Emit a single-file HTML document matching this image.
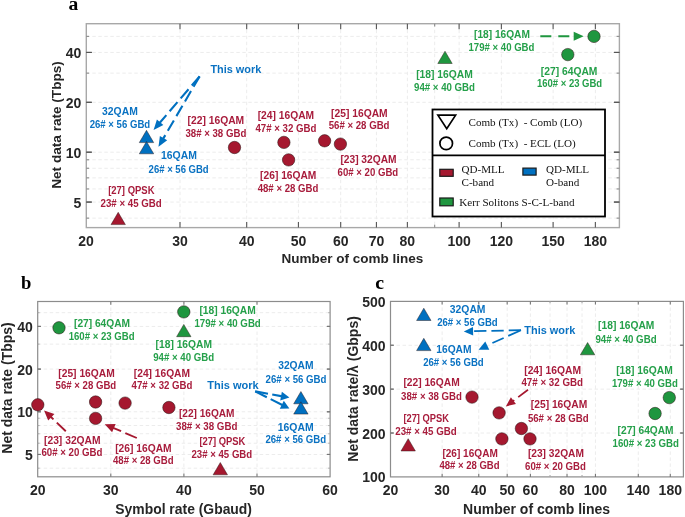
<!DOCTYPE html>
<html><head><meta charset="utf-8"><title>Figure</title><style>
html,body{margin:0;padding:0;background:#fff;}
body{width:685px;height:517px;overflow:hidden;}
svg{display:block;filter:blur(0.3px);}
.an{font-family:"Liberation Sans",sans-serif;font-weight:bold;}
.tk{font-family:"Liberation Sans",sans-serif;font-weight:bold;font-size:14px;fill:#262626;}
.ttl{font-family:"Liberation Sans",sans-serif;font-weight:bold;font-size:13.5px;fill:#262626;}
.lg{font-family:"Liberation Serif",serif;font-size:11.1px;fill:#111;}
.pl{font-family:"Liberation Serif",serif;font-weight:bold;font-size:18.6px;fill:#000;}
</style></head>
<body><svg width="685" height="517" viewBox="0 0 685 517">
<rect x="0" y="0" width="685" height="517" fill="#fff"/>
<line x1="180.00" y1="23.70" x2="180.00" y2="227.60" stroke="#ececec" stroke-width="1" stroke-dasharray="3.5,2.5"/>
<line x1="246.69" y1="23.70" x2="246.69" y2="227.60" stroke="#ececec" stroke-width="1" stroke-dasharray="3.5,2.5"/>
<line x1="298.42" y1="23.70" x2="298.42" y2="227.60" stroke="#ececec" stroke-width="1" stroke-dasharray="3.5,2.5"/>
<line x1="340.69" y1="23.70" x2="340.69" y2="227.60" stroke="#ececec" stroke-width="1" stroke-dasharray="3.5,2.5"/>
<line x1="376.42" y1="23.70" x2="376.42" y2="227.60" stroke="#ececec" stroke-width="1" stroke-dasharray="3.5,2.5"/>
<line x1="407.38" y1="23.70" x2="407.38" y2="227.60" stroke="#ececec" stroke-width="1" stroke-dasharray="3.5,2.5"/>
<line x1="434.68" y1="23.70" x2="434.68" y2="227.60" stroke="#ececec" stroke-width="1" stroke-dasharray="3.5,2.5"/>
<line x1="459.11" y1="23.70" x2="459.11" y2="227.60" stroke="#ececec" stroke-width="1" stroke-dasharray="3.5,2.5"/>
<line x1="501.38" y1="23.70" x2="501.38" y2="227.60" stroke="#ececec" stroke-width="1" stroke-dasharray="3.5,2.5"/>
<line x1="553.11" y1="23.70" x2="553.11" y2="227.60" stroke="#ececec" stroke-width="1" stroke-dasharray="3.5,2.5"/>
<line x1="595.37" y1="23.70" x2="595.37" y2="227.60" stroke="#ececec" stroke-width="1" stroke-dasharray="3.5,2.5"/>
<line x1="86.30" y1="218.13" x2="619.40" y2="218.13" stroke="#ececec" stroke-width="1" stroke-dasharray="3.5,2.5"/>
<line x1="86.30" y1="202.07" x2="619.40" y2="202.07" stroke="#ececec" stroke-width="1" stroke-dasharray="3.5,2.5"/>
<line x1="86.30" y1="188.95" x2="619.40" y2="188.95" stroke="#ececec" stroke-width="1" stroke-dasharray="3.5,2.5"/>
<line x1="86.30" y1="177.86" x2="619.40" y2="177.86" stroke="#ececec" stroke-width="1" stroke-dasharray="3.5,2.5"/>
<line x1="86.30" y1="168.25" x2="619.40" y2="168.25" stroke="#ececec" stroke-width="1" stroke-dasharray="3.5,2.5"/>
<line x1="86.30" y1="159.77" x2="619.40" y2="159.77" stroke="#ececec" stroke-width="1" stroke-dasharray="3.5,2.5"/>
<line x1="86.30" y1="152.19" x2="619.40" y2="152.19" stroke="#ececec" stroke-width="1" stroke-dasharray="3.5,2.5"/>
<line x1="86.30" y1="102.31" x2="619.40" y2="102.31" stroke="#ececec" stroke-width="1" stroke-dasharray="3.5,2.5"/>
<line x1="86.30" y1="73.13" x2="619.40" y2="73.13" stroke="#ececec" stroke-width="1" stroke-dasharray="3.5,2.5"/>
<line x1="86.30" y1="52.43" x2="619.40" y2="52.43" stroke="#ececec" stroke-width="1" stroke-dasharray="3.5,2.5"/>
<line x1="86.30" y1="36.37" x2="619.40" y2="36.37" stroke="#ececec" stroke-width="1" stroke-dasharray="3.5,2.5"/>
<rect x="86.30" y="23.70" width="533.10" height="203.90" fill="none" stroke="#a8a8a8" stroke-width="1.4"/>
<line x1="180.00" y1="227.60" x2="180.00" y2="222.10" stroke="#555" stroke-width="1.1"/>
<line x1="180.00" y1="23.70" x2="180.00" y2="29.20" stroke="#555" stroke-width="1.1"/>
<line x1="246.69" y1="227.60" x2="246.69" y2="222.10" stroke="#555" stroke-width="1.1"/>
<line x1="246.69" y1="23.70" x2="246.69" y2="29.20" stroke="#555" stroke-width="1.1"/>
<line x1="298.42" y1="227.60" x2="298.42" y2="222.10" stroke="#555" stroke-width="1.1"/>
<line x1="298.42" y1="23.70" x2="298.42" y2="29.20" stroke="#555" stroke-width="1.1"/>
<line x1="340.69" y1="227.60" x2="340.69" y2="222.10" stroke="#555" stroke-width="1.1"/>
<line x1="340.69" y1="23.70" x2="340.69" y2="29.20" stroke="#555" stroke-width="1.1"/>
<line x1="376.42" y1="227.60" x2="376.42" y2="222.10" stroke="#555" stroke-width="1.1"/>
<line x1="376.42" y1="23.70" x2="376.42" y2="29.20" stroke="#555" stroke-width="1.1"/>
<line x1="407.38" y1="227.60" x2="407.38" y2="222.10" stroke="#555" stroke-width="1.1"/>
<line x1="407.38" y1="23.70" x2="407.38" y2="29.20" stroke="#555" stroke-width="1.1"/>
<line x1="434.68" y1="227.60" x2="434.68" y2="224.80" stroke="#8a8a8a" stroke-width="1.1"/>
<line x1="434.68" y1="23.70" x2="434.68" y2="26.50" stroke="#8a8a8a" stroke-width="1.1"/>
<line x1="459.11" y1="227.60" x2="459.11" y2="222.10" stroke="#555" stroke-width="1.1"/>
<line x1="459.11" y1="23.70" x2="459.11" y2="29.20" stroke="#555" stroke-width="1.1"/>
<line x1="501.38" y1="227.60" x2="501.38" y2="222.10" stroke="#555" stroke-width="1.1"/>
<line x1="501.38" y1="23.70" x2="501.38" y2="29.20" stroke="#555" stroke-width="1.1"/>
<line x1="553.11" y1="227.60" x2="553.11" y2="222.10" stroke="#555" stroke-width="1.1"/>
<line x1="553.11" y1="23.70" x2="553.11" y2="29.20" stroke="#555" stroke-width="1.1"/>
<line x1="595.37" y1="227.60" x2="595.37" y2="222.10" stroke="#555" stroke-width="1.1"/>
<line x1="595.37" y1="23.70" x2="595.37" y2="29.20" stroke="#555" stroke-width="1.1"/>
<line x1="86.30" y1="218.13" x2="89.10" y2="218.13" stroke="#8a8a8a" stroke-width="1.1"/>
<line x1="619.40" y1="218.13" x2="616.60" y2="218.13" stroke="#8a8a8a" stroke-width="1.1"/>
<line x1="86.30" y1="202.07" x2="91.80" y2="202.07" stroke="#555" stroke-width="1.1"/>
<line x1="619.40" y1="202.07" x2="613.90" y2="202.07" stroke="#555" stroke-width="1.1"/>
<line x1="86.30" y1="188.95" x2="89.10" y2="188.95" stroke="#8a8a8a" stroke-width="1.1"/>
<line x1="619.40" y1="188.95" x2="616.60" y2="188.95" stroke="#8a8a8a" stroke-width="1.1"/>
<line x1="86.30" y1="177.86" x2="89.10" y2="177.86" stroke="#8a8a8a" stroke-width="1.1"/>
<line x1="619.40" y1="177.86" x2="616.60" y2="177.86" stroke="#8a8a8a" stroke-width="1.1"/>
<line x1="86.30" y1="168.25" x2="89.10" y2="168.25" stroke="#8a8a8a" stroke-width="1.1"/>
<line x1="619.40" y1="168.25" x2="616.60" y2="168.25" stroke="#8a8a8a" stroke-width="1.1"/>
<line x1="86.30" y1="159.77" x2="89.10" y2="159.77" stroke="#8a8a8a" stroke-width="1.1"/>
<line x1="619.40" y1="159.77" x2="616.60" y2="159.77" stroke="#8a8a8a" stroke-width="1.1"/>
<line x1="86.30" y1="152.19" x2="91.80" y2="152.19" stroke="#555" stroke-width="1.1"/>
<line x1="619.40" y1="152.19" x2="613.90" y2="152.19" stroke="#555" stroke-width="1.1"/>
<line x1="86.30" y1="102.31" x2="91.80" y2="102.31" stroke="#555" stroke-width="1.1"/>
<line x1="619.40" y1="102.31" x2="613.90" y2="102.31" stroke="#555" stroke-width="1.1"/>
<line x1="86.30" y1="73.13" x2="89.10" y2="73.13" stroke="#8a8a8a" stroke-width="1.1"/>
<line x1="619.40" y1="73.13" x2="616.60" y2="73.13" stroke="#8a8a8a" stroke-width="1.1"/>
<line x1="86.30" y1="52.43" x2="91.80" y2="52.43" stroke="#555" stroke-width="1.1"/>
<line x1="619.40" y1="52.43" x2="613.90" y2="52.43" stroke="#555" stroke-width="1.1"/>
<line x1="86.30" y1="36.37" x2="89.10" y2="36.37" stroke="#8a8a8a" stroke-width="1.1"/>
<line x1="619.40" y1="36.37" x2="616.60" y2="36.37" stroke="#8a8a8a" stroke-width="1.1"/>
<line x1="86.30" y1="202.07" x2="91.80" y2="202.07" stroke="#555" stroke-width="1.1"/>
<line x1="619.40" y1="202.07" x2="613.90" y2="202.07" stroke="#555" stroke-width="1.1"/>
<line x1="86.30" y1="152.19" x2="91.80" y2="152.19" stroke="#555" stroke-width="1.1"/>
<line x1="619.40" y1="152.19" x2="613.90" y2="152.19" stroke="#555" stroke-width="1.1"/>
<line x1="86.30" y1="102.31" x2="91.80" y2="102.31" stroke="#555" stroke-width="1.1"/>
<line x1="619.40" y1="102.31" x2="613.90" y2="102.31" stroke="#555" stroke-width="1.1"/>
<line x1="86.30" y1="52.43" x2="91.80" y2="52.43" stroke="#555" stroke-width="1.1"/>
<line x1="619.40" y1="52.43" x2="613.90" y2="52.43" stroke="#555" stroke-width="1.1"/>
<text x="86.00" y="246.00" text-anchor="middle" class="tk">20</text>
<text x="180.00" y="246.00" text-anchor="middle" class="tk">30</text>
<text x="246.69" y="246.00" text-anchor="middle" class="tk">40</text>
<text x="298.42" y="246.00" text-anchor="middle" class="tk">50</text>
<text x="340.69" y="246.00" text-anchor="middle" class="tk">60</text>
<text x="376.42" y="246.00" text-anchor="middle" class="tk">70</text>
<text x="407.38" y="246.00" text-anchor="middle" class="tk">80</text>
<text x="459.11" y="246.00" text-anchor="middle" class="tk">100</text>
<text x="501.38" y="246.00" text-anchor="middle" class="tk">120</text>
<text x="553.11" y="246.00" text-anchor="middle" class="tk">150</text>
<text x="595.37" y="246.00" text-anchor="middle" class="tk">180</text>
<text x="81.40" y="207.57" text-anchor="end" class="tk">5</text>
<text x="81.40" y="157.69" text-anchor="end" class="tk">10</text>
<text x="81.40" y="107.81" text-anchor="end" class="tk">20</text>
<text x="81.40" y="57.93" text-anchor="end" class="tk">40</text>
<text x="352.5" y="263.1" text-anchor="middle" class="ttl">Number of comb lines</text>
<text transform="translate(61.2,124.95) rotate(-90)" x="0" y="0" text-anchor="middle" class="ttl" style="font-size:13.6px">Net data rate (Tbps)</text>
<text x="68.6" y="9.5" class="pl" style="font-size:19.6px">a</text>
<rect x="432.5" y="109.5" width="172.5" height="107" fill="#fff" stroke="#000" stroke-width="1.8"/>
<line x1="432.50" y1="155.40" x2="605.00" y2="155.40" stroke="#000" stroke-width="1.8"/>
<polygon points="437.9,115.1 455.6,115.1 446.75,128.7" fill="none" stroke="#000" stroke-width="1.7"/>
<circle cx="446.2" cy="143.4" r="6.3" fill="none" stroke="#000" stroke-width="1.7"/>
<text x="468.5" y="126.3" class="lg">Comb (Tx)&#160; - Comb (LO)</text>
<text x="468.5" y="147.3" class="lg">Comb (Tx)&#160; - ECL (LO)</text>
<rect x="439.8" y="169.3" width="13.4" height="7" fill="#a5182f" stroke="#1a1a1a" stroke-width="1.2"/>
<rect x="522.9" y="168.1" width="13.2" height="7" fill="#0070c0" stroke="#1a1a1a" stroke-width="1.2"/>
<rect x="439.8" y="198" width="13.4" height="7.8" fill="#1f963f" stroke="#1a1a1a" stroke-width="1.2"/>
<text x="461.5" y="173.3" class="lg">QD-MLL</text>
<text x="461.5" y="185.9" class="lg">C-band</text>
<text x="546" y="173.3" class="lg">QD-MLL</text>
<text x="546" y="185.9" class="lg">O-band</text>
<text x="459.3" y="206.3" class="lg">Kerr Solitons S-C-L-band</text>
<polygon points="146.50,130.30 153.70,142.60 139.30,142.60" fill="#0070c0" stroke="rgba(40,20,20,0.75)" stroke-width="0.6" stroke-linejoin="miter"/>
<polygon points="146.50,141.50 153.70,153.80 139.30,153.80" fill="#0070c0" stroke="rgba(40,20,20,0.75)" stroke-width="0.6" stroke-linejoin="miter"/>
<polygon points="118.20,212.30 125.40,224.60 111.00,224.60" fill="#a5182f" stroke="rgba(40,20,20,0.75)" stroke-width="0.6" stroke-linejoin="miter"/>
<circle cx="234.50" cy="147.50" r="6.2" fill="#a5182f" stroke="rgba(40,20,20,0.75)" stroke-width="0.7"/>
<circle cx="283.90" cy="142.40" r="6.2" fill="#a5182f" stroke="rgba(40,20,20,0.75)" stroke-width="0.7"/>
<circle cx="288.60" cy="159.90" r="6.2" fill="#a5182f" stroke="rgba(40,20,20,0.75)" stroke-width="0.7"/>
<circle cx="324.60" cy="140.80" r="6.2" fill="#a5182f" stroke="rgba(40,20,20,0.75)" stroke-width="0.7"/>
<circle cx="340.40" cy="144.10" r="6.2" fill="#a5182f" stroke="rgba(40,20,20,0.75)" stroke-width="0.7"/>
<polygon points="445.00,51.20 452.20,63.50 437.80,63.50" fill="#1f963f" stroke="rgba(40,20,20,0.75)" stroke-width="0.6" stroke-linejoin="miter"/>
<circle cx="594.00" cy="36.40" r="6.2" fill="#1f963f" stroke="rgba(40,20,20,0.75)" stroke-width="0.7"/>
<circle cx="567.80" cy="54.60" r="6.2" fill="#1f963f" stroke="rgba(40,20,20,0.75)" stroke-width="0.7"/>
<line x1="199.60" y1="76.40" x2="159.14" y2="123.45" stroke="#0070c0" stroke-width="2.1" stroke-dasharray="12,5"/>
<polygon points="153.60,129.90 156.90,119.55 163.34,125.09" fill="#0070c0"/>
<line x1="199.60" y1="76.40" x2="162.79" y2="139.36" stroke="#0070c0" stroke-width="2.1" stroke-dasharray="12,5"/>
<polygon points="158.50,146.70 159.88,135.92 167.22,140.21" fill="#0070c0"/>
<line x1="540.30" y1="36.20" x2="575.20" y2="36.20" stroke="#1f963f" stroke-width="2.1" stroke-dasharray="11,7"/>
<polygon points="583.70,36.20 573.70,40.70 573.70,31.70" fill="#1f963f"/>
<text x="235.85" y="72.90" text-anchor="middle" textLength="50.90" lengthAdjust="spacingAndGlyphs" class="an" style="font-size:10.2px" fill="#0a72c2">This work</text>
<text x="119.95" y="114.90" text-anchor="middle" textLength="35.70" lengthAdjust="spacingAndGlyphs" class="an" style="font-size:10.2px" fill="#0a72c2">32QAM</text>
<text x="119.95" y="127.80" text-anchor="middle" textLength="60.50" lengthAdjust="spacingAndGlyphs" class="an" style="font-size:10.2px" fill="#0a72c2">26# &#215; 56 GBd</text>
<text x="178.95" y="159.30" text-anchor="middle" textLength="35.90" lengthAdjust="spacingAndGlyphs" class="an" style="font-size:10.2px" fill="#0a72c2">16QAM</text>
<text x="178.65" y="172.70" text-anchor="middle" textLength="60.10" lengthAdjust="spacingAndGlyphs" class="an" style="font-size:10.2px" fill="#0a72c2">26# &#215; 56 GBd</text>
<text x="215.85" y="123.80" text-anchor="middle" textLength="56.70" lengthAdjust="spacingAndGlyphs" class="an" style="font-size:10.2px" fill="#a81c3c">[22] 16QAM</text>
<text x="215.85" y="137.20" text-anchor="middle" textLength="60.90" lengthAdjust="spacingAndGlyphs" class="an" style="font-size:10.2px" fill="#a81c3c">38# &#215; 38 GBd</text>
<text x="285.90" y="119.10" text-anchor="middle" textLength="56.40" lengthAdjust="spacingAndGlyphs" class="an" style="font-size:10.2px" fill="#a81c3c">[24] 16QAM</text>
<text x="285.90" y="131.90" text-anchor="middle" textLength="61.00" lengthAdjust="spacingAndGlyphs" class="an" style="font-size:10.2px" fill="#a81c3c">47# &#215; 32 GBd</text>
<text x="359.40" y="116.50" text-anchor="middle" textLength="56.60" lengthAdjust="spacingAndGlyphs" class="an" style="font-size:10.2px" fill="#a81c3c">[25] 16QAM</text>
<text x="359.10" y="128.90" text-anchor="middle" textLength="60.80" lengthAdjust="spacingAndGlyphs" class="an" style="font-size:10.2px" fill="#a81c3c">56# &#215; 28 GBd</text>
<text x="368.45" y="163.20" text-anchor="middle" textLength="56.10" lengthAdjust="spacingAndGlyphs" class="an" style="font-size:10.2px" fill="#a81c3c">[23] 32QAM</text>
<text x="367.90" y="176.00" text-anchor="middle" textLength="60.60" lengthAdjust="spacingAndGlyphs" class="an" style="font-size:10.2px" fill="#a81c3c">60# &#215; 20 GBd</text>
<text x="288.25" y="179.10" text-anchor="middle" textLength="56.30" lengthAdjust="spacingAndGlyphs" class="an" style="font-size:10.2px" fill="#a81c3c">[26] 16QAM</text>
<text x="288.00" y="191.90" text-anchor="middle" textLength="60.60" lengthAdjust="spacingAndGlyphs" class="an" style="font-size:10.2px" fill="#a81c3c">48# &#215; 28 GBd</text>
<text x="131.35" y="193.70" text-anchor="middle" textLength="46.30" lengthAdjust="spacingAndGlyphs" class="an" style="font-size:10.2px" fill="#a81c3c">[27] QPSK</text>
<text x="131.15" y="206.80" text-anchor="middle" textLength="61.10" lengthAdjust="spacingAndGlyphs" class="an" style="font-size:10.2px" fill="#a81c3c">23# &#215; 45 GBd</text>
<text x="444.50" y="78.40" text-anchor="middle" textLength="56.60" lengthAdjust="spacingAndGlyphs" class="an" style="font-size:10.2px" fill="#25a04a">[18] 16QAM</text>
<text x="444.50" y="91.30" text-anchor="middle" textLength="61.00" lengthAdjust="spacingAndGlyphs" class="an" style="font-size:10.2px" fill="#25a04a">94# &#215; 40 GBd</text>
<text x="501.95" y="37.70" text-anchor="middle" textLength="55.90" lengthAdjust="spacingAndGlyphs" class="an" style="font-size:10.2px" fill="#25a04a">[18] 16QAM</text>
<text x="501.45" y="50.50" text-anchor="middle" textLength="65.90" lengthAdjust="spacingAndGlyphs" class="an" style="font-size:10.2px" fill="#25a04a">179# &#215; 40 GBd</text>
<text x="569.10" y="74.60" text-anchor="middle" textLength="56.60" lengthAdjust="spacingAndGlyphs" class="an" style="font-size:10.2px" fill="#25a04a">[27] 64QAM</text>
<text x="569.55" y="87.40" text-anchor="middle" textLength="65.30" lengthAdjust="spacingAndGlyphs" class="an" style="font-size:10.2px" fill="#25a04a">160# &#215; 23 GBd</text>
<line x1="110.80" y1="301.50" x2="110.80" y2="476.80" stroke="#ececec" stroke-width="1" stroke-dasharray="3.5,2.5"/>
<line x1="183.90" y1="301.50" x2="183.90" y2="476.80" stroke="#ececec" stroke-width="1" stroke-dasharray="3.5,2.5"/>
<line x1="257.00" y1="301.50" x2="257.00" y2="476.80" stroke="#ececec" stroke-width="1" stroke-dasharray="3.5,2.5"/>
<line x1="37.70" y1="468.20" x2="330.10" y2="468.20" stroke="#ececec" stroke-width="1" stroke-dasharray="3.5,2.5"/>
<line x1="37.70" y1="454.46" x2="330.10" y2="454.46" stroke="#ececec" stroke-width="1" stroke-dasharray="3.5,2.5"/>
<line x1="37.70" y1="443.23" x2="330.10" y2="443.23" stroke="#ececec" stroke-width="1" stroke-dasharray="3.5,2.5"/>
<line x1="37.70" y1="433.74" x2="330.10" y2="433.74" stroke="#ececec" stroke-width="1" stroke-dasharray="3.5,2.5"/>
<line x1="37.70" y1="425.52" x2="330.10" y2="425.52" stroke="#ececec" stroke-width="1" stroke-dasharray="3.5,2.5"/>
<line x1="37.70" y1="418.27" x2="330.10" y2="418.27" stroke="#ececec" stroke-width="1" stroke-dasharray="3.5,2.5"/>
<line x1="37.70" y1="411.78" x2="330.10" y2="411.78" stroke="#ececec" stroke-width="1" stroke-dasharray="3.5,2.5"/>
<line x1="37.70" y1="369.10" x2="330.10" y2="369.10" stroke="#ececec" stroke-width="1" stroke-dasharray="3.5,2.5"/>
<line x1="37.70" y1="344.13" x2="330.10" y2="344.13" stroke="#ececec" stroke-width="1" stroke-dasharray="3.5,2.5"/>
<line x1="37.70" y1="326.42" x2="330.10" y2="326.42" stroke="#ececec" stroke-width="1" stroke-dasharray="3.5,2.5"/>
<line x1="37.70" y1="312.68" x2="330.10" y2="312.68" stroke="#ececec" stroke-width="1" stroke-dasharray="3.5,2.5"/>
<rect x="37.70" y="301.50" width="292.40" height="175.30" fill="none" stroke="#8c8c8c" stroke-width="1.2"/>
<line x1="110.80" y1="476.80" x2="110.80" y2="473.60" stroke="#777" stroke-width="1.1"/>
<line x1="110.80" y1="301.50" x2="110.80" y2="304.70" stroke="#777" stroke-width="1.1"/>
<line x1="183.90" y1="476.80" x2="183.90" y2="473.60" stroke="#777" stroke-width="1.1"/>
<line x1="183.90" y1="301.50" x2="183.90" y2="304.70" stroke="#777" stroke-width="1.1"/>
<line x1="257.00" y1="476.80" x2="257.00" y2="473.60" stroke="#777" stroke-width="1.1"/>
<line x1="257.00" y1="301.50" x2="257.00" y2="304.70" stroke="#777" stroke-width="1.1"/>
<line x1="37.70" y1="468.20" x2="39.50" y2="468.20" stroke="#aaa" stroke-width="1.1"/>
<line x1="330.10" y1="468.20" x2="328.30" y2="468.20" stroke="#aaa" stroke-width="1.1"/>
<line x1="37.70" y1="454.46" x2="40.90" y2="454.46" stroke="#777" stroke-width="1.1"/>
<line x1="330.10" y1="454.46" x2="326.90" y2="454.46" stroke="#777" stroke-width="1.1"/>
<line x1="37.70" y1="443.23" x2="39.50" y2="443.23" stroke="#aaa" stroke-width="1.1"/>
<line x1="330.10" y1="443.23" x2="328.30" y2="443.23" stroke="#aaa" stroke-width="1.1"/>
<line x1="37.70" y1="433.74" x2="39.50" y2="433.74" stroke="#aaa" stroke-width="1.1"/>
<line x1="330.10" y1="433.74" x2="328.30" y2="433.74" stroke="#aaa" stroke-width="1.1"/>
<line x1="37.70" y1="425.52" x2="39.50" y2="425.52" stroke="#aaa" stroke-width="1.1"/>
<line x1="330.10" y1="425.52" x2="328.30" y2="425.52" stroke="#aaa" stroke-width="1.1"/>
<line x1="37.70" y1="418.27" x2="39.50" y2="418.27" stroke="#aaa" stroke-width="1.1"/>
<line x1="330.10" y1="418.27" x2="328.30" y2="418.27" stroke="#aaa" stroke-width="1.1"/>
<line x1="37.70" y1="411.78" x2="40.90" y2="411.78" stroke="#777" stroke-width="1.1"/>
<line x1="330.10" y1="411.78" x2="326.90" y2="411.78" stroke="#777" stroke-width="1.1"/>
<line x1="37.70" y1="369.10" x2="40.90" y2="369.10" stroke="#777" stroke-width="1.1"/>
<line x1="330.10" y1="369.10" x2="326.90" y2="369.10" stroke="#777" stroke-width="1.1"/>
<line x1="37.70" y1="344.13" x2="39.50" y2="344.13" stroke="#aaa" stroke-width="1.1"/>
<line x1="330.10" y1="344.13" x2="328.30" y2="344.13" stroke="#aaa" stroke-width="1.1"/>
<line x1="37.70" y1="326.42" x2="40.90" y2="326.42" stroke="#777" stroke-width="1.1"/>
<line x1="330.10" y1="326.42" x2="326.90" y2="326.42" stroke="#777" stroke-width="1.1"/>
<line x1="37.70" y1="312.68" x2="39.50" y2="312.68" stroke="#aaa" stroke-width="1.1"/>
<line x1="330.10" y1="312.68" x2="328.30" y2="312.68" stroke="#aaa" stroke-width="1.1"/>
<line x1="37.70" y1="454.46" x2="40.90" y2="454.46" stroke="#777" stroke-width="1.1"/>
<line x1="330.10" y1="454.46" x2="326.90" y2="454.46" stroke="#777" stroke-width="1.1"/>
<line x1="37.70" y1="411.78" x2="40.90" y2="411.78" stroke="#777" stroke-width="1.1"/>
<line x1="330.10" y1="411.78" x2="326.90" y2="411.78" stroke="#777" stroke-width="1.1"/>
<line x1="37.70" y1="369.10" x2="40.90" y2="369.10" stroke="#777" stroke-width="1.1"/>
<line x1="330.10" y1="369.10" x2="326.90" y2="369.10" stroke="#777" stroke-width="1.1"/>
<line x1="37.70" y1="326.42" x2="40.90" y2="326.42" stroke="#777" stroke-width="1.1"/>
<line x1="330.10" y1="326.42" x2="326.90" y2="326.42" stroke="#777" stroke-width="1.1"/>
<text x="37.70" y="495.20" text-anchor="middle" class="tk">20</text>
<text x="110.80" y="495.20" text-anchor="middle" class="tk">30</text>
<text x="183.90" y="495.20" text-anchor="middle" class="tk">40</text>
<text x="257.00" y="495.20" text-anchor="middle" class="tk">50</text>
<text x="330.10" y="495.20" text-anchor="middle" class="tk">60</text>
<text x="32.80" y="459.96" text-anchor="end" class="tk">5</text>
<text x="32.80" y="417.28" text-anchor="end" class="tk">10</text>
<text x="32.80" y="374.60" text-anchor="end" class="tk">20</text>
<text x="32.80" y="331.92" text-anchor="end" class="tk">40</text>
<text x="183.65" y="514.2" text-anchor="middle" class="ttl" style="font-size:13.9px">Symbol rate (Gbaud)</text>
<text transform="translate(11.6,388) rotate(-90)" x="0" y="0" text-anchor="middle" class="ttl" style="font-size:14px">Net data rate (Tbps)</text>
<text x="20.9" y="289" class="pl">b</text>
<circle cx="59.00" cy="327.80" r="6.2" fill="#1f963f" stroke="rgba(40,20,20,0.75)" stroke-width="0.7"/>
<circle cx="183.80" cy="311.90" r="6.2" fill="#1f963f" stroke="rgba(40,20,20,0.75)" stroke-width="0.7"/>
<polygon points="183.80,324.40 191.00,336.70 176.60,336.70" fill="#1f963f" stroke="rgba(40,20,20,0.75)" stroke-width="0.6" stroke-linejoin="miter"/>
<circle cx="37.80" cy="404.80" r="6.2" fill="#a5182f" stroke="rgba(40,20,20,0.75)" stroke-width="0.7"/>
<circle cx="95.60" cy="402.00" r="6.2" fill="#a5182f" stroke="rgba(40,20,20,0.75)" stroke-width="0.7"/>
<circle cx="95.60" cy="418.40" r="6.2" fill="#a5182f" stroke="rgba(40,20,20,0.75)" stroke-width="0.7"/>
<circle cx="125.10" cy="403.10" r="6.2" fill="#a5182f" stroke="rgba(40,20,20,0.75)" stroke-width="0.7"/>
<circle cx="168.90" cy="407.50" r="6.2" fill="#a5182f" stroke="rgba(40,20,20,0.75)" stroke-width="0.7"/>
<polygon points="220.30,462.50 227.50,474.80 213.10,474.80" fill="#a5182f" stroke="rgba(40,20,20,0.75)" stroke-width="0.6" stroke-linejoin="miter"/>
<polygon points="300.90,391.50 308.10,403.80 293.70,403.80" fill="#0070c0" stroke="rgba(40,20,20,0.75)" stroke-width="0.6" stroke-linejoin="miter"/>
<polygon points="300.90,401.80 308.10,414.10 293.70,414.10" fill="#0070c0" stroke="rgba(40,20,20,0.75)" stroke-width="0.6" stroke-linejoin="miter"/>
<line x1="65.80" y1="431.30" x2="50.22" y2="416.30" stroke="#a5182f" stroke-width="1.9" stroke-dasharray="12.5,4.6"/>
<polygon points="44.10,410.40 54.42,414.10 48.18,420.58" fill="#a5182f"/>
<line x1="136.80" y1="438.00" x2="112.51" y2="427.56" stroke="#a5182f" stroke-width="1.9" stroke-dasharray="12.5,4.6"/>
<polygon points="104.70,424.20 115.66,424.02 112.11,432.28" fill="#a5182f"/>
<line x1="255.20" y1="391.40" x2="282.51" y2="396.35" stroke="#0070c0" stroke-width="2.1" stroke-dasharray="13,4.3"/>
<polygon points="289.40,397.60 280.23,400.51 281.84,391.66" fill="#0070c0"/>
<line x1="255.20" y1="391.40" x2="283.14" y2="405.37" stroke="#0070c0" stroke-width="2.1" stroke-dasharray="13,4.3"/>
<polygon points="289.40,408.50 279.78,408.72 283.81,400.67" fill="#0070c0"/>
<text x="102.00" y="327.00" text-anchor="middle" textLength="56.00" lengthAdjust="spacingAndGlyphs" class="an" style="font-size:10.2px" fill="#25a04a">[27] 64QAM</text>
<text x="101.65" y="339.70" text-anchor="middle" textLength="65.90" lengthAdjust="spacingAndGlyphs" class="an" style="font-size:10.2px" fill="#25a04a">160# &#215; 23 GBd</text>
<text x="227.60" y="313.90" text-anchor="middle" textLength="56.40" lengthAdjust="spacingAndGlyphs" class="an" style="font-size:10.2px" fill="#25a04a">[18] 16QAM</text>
<text x="227.60" y="326.50" text-anchor="middle" textLength="66.40" lengthAdjust="spacingAndGlyphs" class="an" style="font-size:10.2px" fill="#25a04a">179# &#215; 40 GBd</text>
<text x="183.80" y="347.80" text-anchor="middle" textLength="56.40" lengthAdjust="spacingAndGlyphs" class="an" style="font-size:10.2px" fill="#25a04a">[18] 16QAM</text>
<text x="183.65" y="360.70" text-anchor="middle" textLength="60.90" lengthAdjust="spacingAndGlyphs" class="an" style="font-size:10.2px" fill="#25a04a">94# &#215; 40 GBd</text>
<text x="86.50" y="376.90" text-anchor="middle" textLength="56.40" lengthAdjust="spacingAndGlyphs" class="an" style="font-size:10.2px" fill="#a81c3c">[25] 16QAM</text>
<text x="85.90" y="389.10" text-anchor="middle" textLength="60.60" lengthAdjust="spacingAndGlyphs" class="an" style="font-size:10.2px" fill="#a81c3c">56# &#215; 28 GBd</text>
<text x="161.90" y="376.90" text-anchor="middle" textLength="56.20" lengthAdjust="spacingAndGlyphs" class="an" style="font-size:10.2px" fill="#a81c3c">[24] 16QAM</text>
<text x="162.00" y="389.10" text-anchor="middle" textLength="60.80" lengthAdjust="spacingAndGlyphs" class="an" style="font-size:10.2px" fill="#a81c3c">47# &#215; 32 GBd</text>
<text x="206.70" y="416.90" text-anchor="middle" textLength="55.60" lengthAdjust="spacingAndGlyphs" class="an" style="font-size:10.2px" fill="#a81c3c">[22] 16QAM</text>
<text x="206.70" y="429.70" text-anchor="middle" textLength="61.40" lengthAdjust="spacingAndGlyphs" class="an" style="font-size:10.2px" fill="#a81c3c">38# &#215; 38 GBd</text>
<text x="72.30" y="443.60" text-anchor="middle" textLength="56.60" lengthAdjust="spacingAndGlyphs" class="an" style="font-size:10.2px" fill="#a81c3c">[23] 32QAM</text>
<text x="71.95" y="456.30" text-anchor="middle" textLength="61.10" lengthAdjust="spacingAndGlyphs" class="an" style="font-size:10.2px" fill="#a81c3c">60# &#215; 20 GBd</text>
<text x="143.40" y="451.50" text-anchor="middle" textLength="56.40" lengthAdjust="spacingAndGlyphs" class="an" style="font-size:10.2px" fill="#a81c3c">[26] 16QAM</text>
<text x="143.30" y="463.60" text-anchor="middle" textLength="60.60" lengthAdjust="spacingAndGlyphs" class="an" style="font-size:10.2px" fill="#a81c3c">48# &#215; 28 GBd</text>
<text x="222.40" y="444.50" text-anchor="middle" textLength="46.00" lengthAdjust="spacingAndGlyphs" class="an" style="font-size:10.2px" fill="#a81c3c">[27] QPSK</text>
<text x="221.85" y="457.60" text-anchor="middle" textLength="60.70" lengthAdjust="spacingAndGlyphs" class="an" style="font-size:10.2px" fill="#a81c3c">23# &#215; 45 GBd</text>
<text x="295.90" y="369.40" text-anchor="middle" textLength="35.40" lengthAdjust="spacingAndGlyphs" class="an" style="font-size:10.2px" fill="#0a72c2">32QAM</text>
<text x="296.05" y="382.60" text-anchor="middle" textLength="60.90" lengthAdjust="spacingAndGlyphs" class="an" style="font-size:10.2px" fill="#0a72c2">26# &#215; 56 GBd</text>
<text x="232.95" y="389.30" text-anchor="middle" textLength="51.50" lengthAdjust="spacingAndGlyphs" class="an" style="font-size:10.2px" fill="#0a72c2">This work</text>
<text x="295.65" y="430.60" text-anchor="middle" textLength="35.90" lengthAdjust="spacingAndGlyphs" class="an" style="font-size:10.2px" fill="#0a72c2">16QAM</text>
<text x="295.80" y="443.40" text-anchor="middle" textLength="60.80" lengthAdjust="spacingAndGlyphs" class="an" style="font-size:10.2px" fill="#0a72c2">26# &#215; 56 GBd</text>
<line x1="442.13" y1="301.40" x2="442.13" y2="476.90" stroke="#ececec" stroke-width="1" stroke-dasharray="3.5,2.5"/>
<line x1="478.76" y1="301.40" x2="478.76" y2="476.90" stroke="#ececec" stroke-width="1" stroke-dasharray="3.5,2.5"/>
<line x1="507.18" y1="301.40" x2="507.18" y2="476.90" stroke="#ececec" stroke-width="1" stroke-dasharray="3.5,2.5"/>
<line x1="530.39" y1="301.40" x2="530.39" y2="476.90" stroke="#ececec" stroke-width="1" stroke-dasharray="3.5,2.5"/>
<line x1="550.02" y1="301.40" x2="550.02" y2="476.90" stroke="#ececec" stroke-width="1" stroke-dasharray="3.5,2.5"/>
<line x1="567.02" y1="301.40" x2="567.02" y2="476.90" stroke="#ececec" stroke-width="1" stroke-dasharray="3.5,2.5"/>
<line x1="582.02" y1="301.40" x2="582.02" y2="476.90" stroke="#ececec" stroke-width="1" stroke-dasharray="3.5,2.5"/>
<line x1="595.44" y1="301.40" x2="595.44" y2="476.90" stroke="#ececec" stroke-width="1" stroke-dasharray="3.5,2.5"/>
<line x1="638.28" y1="301.40" x2="638.28" y2="476.90" stroke="#ececec" stroke-width="1" stroke-dasharray="3.5,2.5"/>
<line x1="670.28" y1="301.40" x2="670.28" y2="476.90" stroke="#ececec" stroke-width="1" stroke-dasharray="3.5,2.5"/>
<line x1="390.50" y1="433.02" x2="683.40" y2="433.02" stroke="#ececec" stroke-width="1" stroke-dasharray="3.5,2.5"/>
<line x1="390.50" y1="389.15" x2="683.40" y2="389.15" stroke="#ececec" stroke-width="1" stroke-dasharray="3.5,2.5"/>
<line x1="390.50" y1="345.27" x2="683.40" y2="345.27" stroke="#ececec" stroke-width="1" stroke-dasharray="3.5,2.5"/>
<rect x="390.50" y="301.40" width="292.90" height="175.50" fill="none" stroke="#8c8c8c" stroke-width="1.2"/>
<line x1="442.13" y1="476.90" x2="442.13" y2="473.70" stroke="#777" stroke-width="1.1"/>
<line x1="442.13" y1="301.40" x2="442.13" y2="304.60" stroke="#777" stroke-width="1.1"/>
<line x1="478.76" y1="476.90" x2="478.76" y2="473.70" stroke="#777" stroke-width="1.1"/>
<line x1="478.76" y1="301.40" x2="478.76" y2="304.60" stroke="#777" stroke-width="1.1"/>
<line x1="507.18" y1="476.90" x2="507.18" y2="473.70" stroke="#777" stroke-width="1.1"/>
<line x1="507.18" y1="301.40" x2="507.18" y2="304.60" stroke="#777" stroke-width="1.1"/>
<line x1="530.39" y1="476.90" x2="530.39" y2="473.70" stroke="#777" stroke-width="1.1"/>
<line x1="530.39" y1="301.40" x2="530.39" y2="304.60" stroke="#777" stroke-width="1.1"/>
<line x1="550.02" y1="476.90" x2="550.02" y2="475.10" stroke="#aaa" stroke-width="1.1"/>
<line x1="550.02" y1="301.40" x2="550.02" y2="303.20" stroke="#aaa" stroke-width="1.1"/>
<line x1="567.02" y1="476.90" x2="567.02" y2="473.70" stroke="#777" stroke-width="1.1"/>
<line x1="567.02" y1="301.40" x2="567.02" y2="304.60" stroke="#777" stroke-width="1.1"/>
<line x1="582.02" y1="476.90" x2="582.02" y2="475.10" stroke="#aaa" stroke-width="1.1"/>
<line x1="582.02" y1="301.40" x2="582.02" y2="303.20" stroke="#aaa" stroke-width="1.1"/>
<line x1="595.44" y1="476.90" x2="595.44" y2="473.70" stroke="#777" stroke-width="1.1"/>
<line x1="595.44" y1="301.40" x2="595.44" y2="304.60" stroke="#777" stroke-width="1.1"/>
<line x1="638.28" y1="476.90" x2="638.28" y2="473.70" stroke="#777" stroke-width="1.1"/>
<line x1="638.28" y1="301.40" x2="638.28" y2="304.60" stroke="#777" stroke-width="1.1"/>
<line x1="670.28" y1="476.90" x2="670.28" y2="473.70" stroke="#777" stroke-width="1.1"/>
<line x1="670.28" y1="301.40" x2="670.28" y2="304.60" stroke="#777" stroke-width="1.1"/>
<line x1="390.50" y1="433.02" x2="393.70" y2="433.02" stroke="#777" stroke-width="1.1"/>
<line x1="683.40" y1="433.02" x2="680.20" y2="433.02" stroke="#777" stroke-width="1.1"/>
<line x1="390.50" y1="389.15" x2="393.70" y2="389.15" stroke="#777" stroke-width="1.1"/>
<line x1="683.40" y1="389.15" x2="680.20" y2="389.15" stroke="#777" stroke-width="1.1"/>
<line x1="390.50" y1="345.27" x2="393.70" y2="345.27" stroke="#777" stroke-width="1.1"/>
<line x1="683.40" y1="345.27" x2="680.20" y2="345.27" stroke="#777" stroke-width="1.1"/>
<line x1="390.50" y1="433.02" x2="393.70" y2="433.02" stroke="#777" stroke-width="1.1"/>
<line x1="683.40" y1="433.02" x2="680.20" y2="433.02" stroke="#777" stroke-width="1.1"/>
<line x1="390.50" y1="389.15" x2="393.70" y2="389.15" stroke="#777" stroke-width="1.1"/>
<line x1="683.40" y1="389.15" x2="680.20" y2="389.15" stroke="#777" stroke-width="1.1"/>
<line x1="390.50" y1="345.27" x2="393.70" y2="345.27" stroke="#777" stroke-width="1.1"/>
<line x1="683.40" y1="345.27" x2="680.20" y2="345.27" stroke="#777" stroke-width="1.1"/>
<text x="390.50" y="495.30" text-anchor="middle" class="tk">20</text>
<text x="442.13" y="495.30" text-anchor="middle" class="tk">30</text>
<text x="478.76" y="495.30" text-anchor="middle" class="tk">40</text>
<text x="507.18" y="495.30" text-anchor="middle" class="tk">50</text>
<text x="530.39" y="495.30" text-anchor="middle" class="tk">60</text>
<text x="567.02" y="495.30" text-anchor="middle" class="tk">80</text>
<text x="595.44" y="495.30" text-anchor="middle" class="tk">100</text>
<text x="638.28" y="495.30" text-anchor="middle" class="tk">140</text>
<text x="670.28" y="495.30" text-anchor="middle" class="tk">180</text>
<text x="385.60" y="482.40" text-anchor="end" class="tk">100</text>
<text x="385.60" y="438.52" text-anchor="end" class="tk">200</text>
<text x="385.60" y="394.65" text-anchor="end" class="tk">300</text>
<text x="385.60" y="350.77" text-anchor="end" class="tk">400</text>
<text x="385.60" y="306.90" text-anchor="end" class="tk">500</text>
<text x="536.6" y="513.9" text-anchor="middle" class="ttl" style="font-size:14px">Number of comb lines</text>
<text transform="translate(357.8,388.9) rotate(-90)" x="0" y="0" text-anchor="middle" class="ttl" style="font-size:14px">Net data rate/&#955; (Gbps)</text>
<text x="375.2" y="288.9" class="pl" style="font-size:19.8px">c</text>
<polygon points="423.80,308.20 431.00,320.50 416.60,320.50" fill="#0070c0" stroke="rgba(40,20,20,0.75)" stroke-width="0.6" stroke-linejoin="miter"/>
<polygon points="423.80,338.30 431.00,350.60 416.60,350.60" fill="#0070c0" stroke="rgba(40,20,20,0.75)" stroke-width="0.6" stroke-linejoin="miter"/>
<polygon points="408.20,438.70 415.40,451.00 401.00,451.00" fill="#a5182f" stroke="rgba(40,20,20,0.75)" stroke-width="0.6" stroke-linejoin="miter"/>
<circle cx="472.00" cy="397.10" r="6.2" fill="#a5182f" stroke="rgba(40,20,20,0.75)" stroke-width="0.7"/>
<circle cx="499.10" cy="412.90" r="6.2" fill="#a5182f" stroke="rgba(40,20,20,0.75)" stroke-width="0.7"/>
<circle cx="521.40" cy="428.50" r="6.2" fill="#a5182f" stroke="rgba(40,20,20,0.75)" stroke-width="0.7"/>
<circle cx="501.90" cy="438.90" r="6.2" fill="#a5182f" stroke="rgba(40,20,20,0.75)" stroke-width="0.7"/>
<circle cx="530.00" cy="438.90" r="6.2" fill="#a5182f" stroke="rgba(40,20,20,0.75)" stroke-width="0.7"/>
<polygon points="587.60,342.50 594.80,354.80 580.40,354.80" fill="#1f963f" stroke="rgba(40,20,20,0.75)" stroke-width="0.6" stroke-linejoin="miter"/>
<circle cx="669.30" cy="397.60" r="6.2" fill="#1f963f" stroke="rgba(40,20,20,0.75)" stroke-width="0.7"/>
<circle cx="655.10" cy="413.50" r="6.2" fill="#1f963f" stroke="rgba(40,20,20,0.75)" stroke-width="0.7"/>
<line x1="521.00" y1="330.20" x2="471.60" y2="331.24" stroke="#0070c0" stroke-width="1.8" stroke-dasharray="12.3,5"/>
<polygon points="463.80,331.40 473.01,326.96 473.19,335.45" fill="#0070c0"/>
<line x1="521.00" y1="330.20" x2="492.40" y2="343.00" stroke="#0070c0" stroke-width="1.8" stroke-dasharray="14,5"/>
<polygon points="478.6,349.7 489.3,349.7 485.3,341.6" fill="#0070c0"/>
<line x1="528.00" y1="389.80" x2="512.21" y2="401.61" stroke="#a5182f" stroke-width="1.8" stroke-dasharray="12.2,5"/>
<polygon points="505.80,406.40 510.89,397.35 515.92,404.07" fill="#a5182f"/>
<text x="467.65" y="313.10" text-anchor="middle" textLength="35.70" lengthAdjust="spacingAndGlyphs" class="an" style="font-size:10.2px" fill="#0a72c2">32QAM</text>
<text x="467.45" y="325.90" text-anchor="middle" textLength="60.50" lengthAdjust="spacingAndGlyphs" class="an" style="font-size:10.2px" fill="#0a72c2">26# &#215; 56 GBd</text>
<text x="453.90" y="352.50" text-anchor="middle" textLength="35.20" lengthAdjust="spacingAndGlyphs" class="an" style="font-size:10.2px" fill="#0a72c2">16QAM</text>
<text x="453.45" y="365.70" text-anchor="middle" textLength="60.50" lengthAdjust="spacingAndGlyphs" class="an" style="font-size:10.2px" fill="#0a72c2">26# &#215; 56 GBd</text>
<text x="549.80" y="334.00" text-anchor="middle" textLength="51.00" lengthAdjust="spacingAndGlyphs" class="an" style="font-size:10.2px" fill="#0a72c2">This work</text>
<text x="626.25" y="329.20" text-anchor="middle" textLength="56.30" lengthAdjust="spacingAndGlyphs" class="an" style="font-size:10.2px" fill="#25a04a">[18] 16QAM</text>
<text x="626.00" y="342.70" text-anchor="middle" textLength="61.20" lengthAdjust="spacingAndGlyphs" class="an" style="font-size:10.2px" fill="#25a04a">94# &#215; 40 GBd</text>
<text x="644.45" y="374.20" text-anchor="middle" textLength="56.50" lengthAdjust="spacingAndGlyphs" class="an" style="font-size:10.2px" fill="#25a04a">[18] 16QAM</text>
<text x="644.85" y="387.00" text-anchor="middle" textLength="65.90" lengthAdjust="spacingAndGlyphs" class="an" style="font-size:10.2px" fill="#25a04a">179# &#215; 40 GBd</text>
<text x="645.55" y="434.00" text-anchor="middle" textLength="55.90" lengthAdjust="spacingAndGlyphs" class="an" style="font-size:10.2px" fill="#25a04a">[27] 64QAM</text>
<text x="645.70" y="446.80" text-anchor="middle" textLength="66.40" lengthAdjust="spacingAndGlyphs" class="an" style="font-size:10.2px" fill="#25a04a">160# &#215; 23 GBd</text>
<text x="431.55" y="386.00" text-anchor="middle" textLength="56.30" lengthAdjust="spacingAndGlyphs" class="an" style="font-size:10.2px" fill="#a81c3c">[22] 16QAM</text>
<text x="431.55" y="399.50" text-anchor="middle" textLength="60.90" lengthAdjust="spacingAndGlyphs" class="an" style="font-size:10.2px" fill="#a81c3c">38# &#215; 38 GBd</text>
<text x="426.20" y="421.50" text-anchor="middle" textLength="45.60" lengthAdjust="spacingAndGlyphs" class="an" style="font-size:10.2px" fill="#a81c3c">[27] QPSK</text>
<text x="426.00" y="434.80" text-anchor="middle" textLength="61.40" lengthAdjust="spacingAndGlyphs" class="an" style="font-size:10.2px" fill="#a81c3c">23# &#215; 45 GBd</text>
<text x="470.10" y="457.10" text-anchor="middle" textLength="55.40" lengthAdjust="spacingAndGlyphs" class="an" style="font-size:10.2px" fill="#a81c3c">[26] 16QAM</text>
<text x="469.50" y="469.10" text-anchor="middle" textLength="60.20" lengthAdjust="spacingAndGlyphs" class="an" style="font-size:10.2px" fill="#a81c3c">48# &#215; 28 GBd</text>
<text x="552.60" y="373.70" text-anchor="middle" textLength="56.80" lengthAdjust="spacingAndGlyphs" class="an" style="font-size:10.2px" fill="#a81c3c">[24] 16QAM</text>
<text x="552.20" y="386.20" text-anchor="middle" textLength="61.60" lengthAdjust="spacingAndGlyphs" class="an" style="font-size:10.2px" fill="#a81c3c">47# &#215; 32 GBd</text>
<text x="559.05" y="408.40" text-anchor="middle" textLength="56.50" lengthAdjust="spacingAndGlyphs" class="an" style="font-size:10.2px" fill="#a81c3c">[25] 16QAM</text>
<text x="558.30" y="421.80" text-anchor="middle" textLength="60.80" lengthAdjust="spacingAndGlyphs" class="an" style="font-size:10.2px" fill="#a81c3c">56# &#215; 28 GBd</text>
<text x="555.90" y="456.80" text-anchor="middle" textLength="56.00" lengthAdjust="spacingAndGlyphs" class="an" style="font-size:10.2px" fill="#a81c3c">[23] 32QAM</text>
<text x="555.50" y="469.60" text-anchor="middle" textLength="60.80" lengthAdjust="spacingAndGlyphs" class="an" style="font-size:10.2px" fill="#a81c3c">60# &#215; 20 GBd</text>
</svg></body></html>
